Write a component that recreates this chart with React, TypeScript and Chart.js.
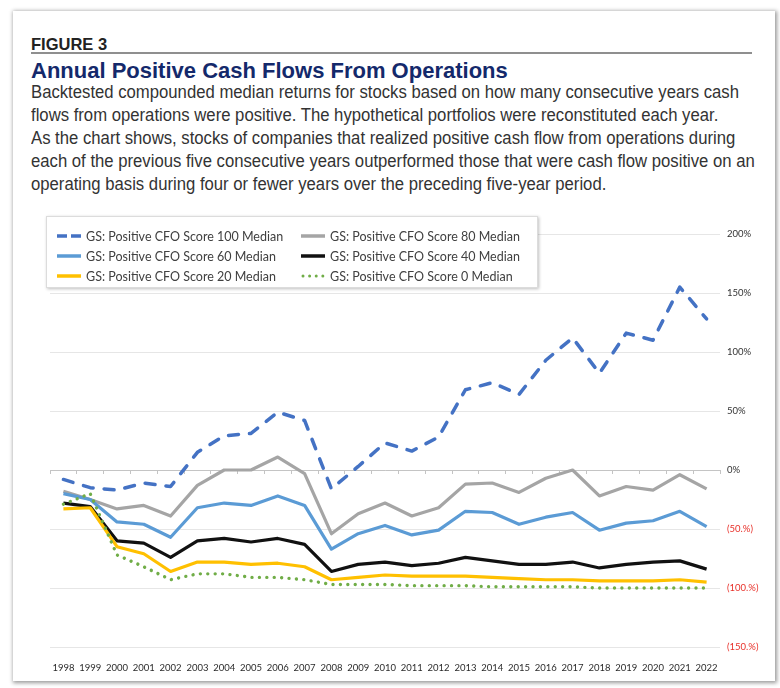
import { useEffect, useMemo, useRef } from "react";
import { Chart, registerables } from "chart.js";

Chart.register(...registerables);

const years = [
  "1998", "1999", "2000", "2001", "2002", "2003", "2004", "2005", "2006",
  "2007", "2008", "2009", "2010", "2011", "2012", "2013", "2014", "2015",
  "2016", "2017", "2018", "2019", "2020", "2021", "2022",
];

const score100 = [-8, -15, -17, -11, -14, 15, 29, 31, 49, 42, -16, 3, 23, 16, 28, 68, 74, 64, 93, 112, 82, 116, 110, 155, 128];
const score80 = [-18, -25, -33, -30, -39, -13, 0, 0, 11, -3, -54, -37, -28, -39, -32, -12, -11, -19, -7, 0, -22, -14, -17, -4, -16];
const score60 = [-20, -25, -44, -46, -57, -32, -28, -30, -22, -30, -67, -54, -47, -55, -51, -35, -36, -46, -40, -36, -51, -45, -43, -35, -48];
const score40 = [-28, -31, -60, -62, -74, -60, -58, -61, -58, -63, -86, -80, -78, -81, -79, -74, -77, -80, -80, -78, -83, -80, -78, -77, -84];
const score20 = [-33, -32, -65, -71, -86, -78, -78, -80, -79, -82, -93, -91, -89, -90, -90, -90, -91, -92, -93, -93, -94, -94, -94, -93, -95];
const score0 = [-29, -20, -72, -82, -93, -88, -88, -91, -91, -93, -97, -97, -97, -98, -98, -98, -99, -99, -99, -99, -100, -100, -100, -100, -100];

const yTickLabels: Record<number, string> = {
  200: "200%",
  150: "150%",
  100: "100%",
  50: "50%",
  0: "0%",
  [-50]: "(50.%)",
  [-100]: "(100.%)",
  [-150]: "(150.%)",
};

const bodyLines = [
  "Backtested compounded median returns for stocks based on how many consecutive years cash",
  "flows from operations were positive. The hypothetical portfolios were reconstituted each year.",
  "As the chart shows, stocks of companies that realized positive cash flow from operations during",
  "each of the previous five consecutive years outperformed those that were cash flow positive on an",
  "operating basis during four or fewer years over the preceding five-year period.",
];

type SeriesStyle = {
  label: string;
  data: number[];
  color: string;
  dash: number[];
};

const series: SeriesStyle[] = [
  { label: "GS: Positive CFO Score 100 Median", data: score100, color: "#4472c4", dash: [10, 11] },
  { label: "GS: Positive CFO Score 80 Median", data: score80, color: "#a5a5a5", dash: [] },
  { label: "GS: Positive CFO Score 60 Median", data: score60, color: "#5b9bd5", dash: [] },
  { label: "GS: Positive CFO Score 40 Median", data: score40, color: "#111111", dash: [] },
  { label: "GS: Positive CFO Score 20 Median", data: score20, color: "#ffc000", dash: [] },
  { label: "GS: Positive CFO Score 0 Median", data: score0, color: "#70ad47", dash: [0.01, 7.4] },
];

const sans = '"Liberation Sans", Arial, sans-serif';
const chartFont = 'Lato, "Open Sans", sans-serif';
const bodySize = 17.5;
// first body line spans about 708px in the figure
const bodyLineWidth = 708;

function measureText(text: string, font: string) {
  const ctx = document.createElement("canvas").getContext("2d");
  if (!ctx) return bodyLineWidth;
  ctx.font = font;
  return ctx.measureText(text).width;
}

function LegendSample({ item }: { item: SeriesStyle }) {
  const dotted = item.dash.length > 0 && item.dash[0] < 1;
  return (
    <svg width={26} height={8} style={{ display: "block" }}>
      <line
        x1={dotted ? 2 : 0}
        y1={4}
        x2={24}
        y2={4}
        stroke={item.color}
        strokeWidth={dotted ? 3 : 3.5}
        strokeLinecap={dotted ? "round" : "butt"}
        strokeDasharray={dotted ? "0.01 6.6" : item.dash.length ? "10 4" : undefined}
      />
    </svg>
  );
}

export default function App() {
  const canvasRef = useRef<HTMLCanvasElement | null>(null);

  const bodyScale = useMemo(
    () => bodyLineWidth / measureText(bodyLines[0], `${bodySize}px "Liberation Sans"`),
    [],
  );

  useEffect(() => {
    const canvas = canvasRef.current;
    if (!canvas) return;

    const chart = new Chart(canvas, {
      type: "line",
      data: {
        labels: years,
        datasets: series.map((s, i) => ({
          label: s.label,
          data: s.data,
          borderColor: s.color,
          backgroundColor: s.color,
          borderWidth: i === 0 ? 3.5 : s.dash.length ? 3.4 : 3.2,
          borderDash: s.dash,
          borderCapStyle: s.dash.length ? "round" : "butt",
          borderJoinStyle: "round",
          pointRadius: 0,
          tension: 0,
          order: 5 - i,
        })),
      },
      options: {
        animation: false,
        responsive: false,
        layout: { padding: { left: 50, right: 0, top: 34, bottom: 16 } },
        plugins: {
          legend: { display: false },
          tooltip: { enabled: false },
        },
        scales: {
          x: {
            type: "category",
            position: "bottom",
            offset: true,
            grid: { display: false },
            border: { display: false },
            ticks: {
              autoSkip: false,
              maxRotation: 0,
              padding: 7,
              color: "#2b2b2b",
              font: { family: chartFont, size: 9.5 },
            },
            afterFit(scale) {
              scale.height = 25;
            },
          },
          x0: {
            type: "category",
            axis: "x",
            position: { y: 0 },
            offset: true,
            grid: {
              drawOnChartArea: false,
              drawTicks: true,
              tickLength: 3,
              color: "#c4c4c4",
              offset: true,
            },
            border: { display: true, color: "#c4c4c4", width: 1 },
            ticks: { display: false },
          },
          y: {
            position: "right",
            min: -150,
            max: 200,
            grid: { color: "#e6e6e6", drawTicks: false },
            border: { display: false },
            ticks: {
              stepSize: 10,
              autoSkip: false,
              maxTicksLimit: 100,
              padding: 7,
              font: { family: chartFont, size: 9.5 },
              color: (ctx) => (ctx.tick && ctx.tick.value < 0 ? "#e8312a" : "#333333"),
              callback(value) {
                return yTickLabels[Number(value)] ?? null;
              },
            },
            afterFit(scale) {
              scale.width = 60;
            },
          },
        },
      },
    });

    return () => {
      chart.destroy();
    };
  }, []);

  return (
    <div style={{ position: "absolute", left: 0, top: 0, width: 780, height: 688, background: "#fff", overflow: "hidden" }}>
      <div
        style={{
          position: "absolute",
          left: 13,
          top: 11,
          width: 762,
          height: 670,
          background: "#fff",
          boxShadow: "1px 1px 4px 1px rgba(0,0,0,0.4)",
        }}
      />
      <div
        style={{
          position: "absolute",
          left: 31,
          top: 35.9,
          fontFamily: sans,
          fontWeight: 700,
          fontSize: 16.5,
          lineHeight: "16.5px",
          color: "#222",
          whiteSpace: "nowrap",
        }}
      >
        FIGURE 3
      </div>
      <div style={{ position: "absolute", left: 31, top: 52, width: 721, height: 1.5, background: "#8f8f8f" }} />
      <div
        style={{
          position: "absolute",
          left: 31,
          top: 60.2,
          fontFamily: sans,
          fontWeight: 700,
          fontSize: 22,
          lineHeight: "22px",
          color: "#14296b",
          whiteSpace: "nowrap",
        }}
      >
        Annual Positive Cash Flows From Operations
      </div>
      {bodyLines.map((line, i) => (
        <div
          key={i}
          style={{
            position: "absolute",
            left: 31,
            top: 92.5 + i * 23 - 0.49 * bodySize,
            fontFamily: sans,
            fontSize: bodySize,
            lineHeight: `${bodySize}px`,
            color: "#333",
            whiteSpace: "nowrap",
            transform: `scaleX(${bodyScale})`,
            transformOrigin: "0 50%",
          }}
        >
          {line}
        </div>
      ))}
      <canvas
        ref={canvasRef}
        width={780}
        height={488}
        style={{ position: "absolute", left: 0, top: 200, width: 780, height: 488 }}
        aria-label="Annual positive cash flows from operations chart"
        role="img"
      />
      <div
        style={{
          position: "absolute",
          left: 46,
          top: 216,
          width: 490,
          height: 70,
          background: "#fff",
          border: "1px solid #dcdcdc",
          boxShadow: "1px 1px 3px rgba(0,0,0,0.25)",
          fontFamily: chartFont,
          fontSize: 12.5,
          color: "#404040",
        }}
      >
        {series.map((s, i) => {
          const col = i % 2;
          const row = Math.floor(i / 2);
          return (
            <div
              key={s.label}
              style={{
                position: "absolute",
                left: col === 0 ? 10 : 254,
                top: 19 + row * 20 - 8,
                height: 16,
                display: "flex",
                alignItems: "center",
                whiteSpace: "nowrap",
              }}
            >
              <LegendSample item={s} />
              <span style={{ marginLeft: 3 }}>{s.label}</span>
            </div>
          );
        })}
      </div>
    </div>
  );
}
